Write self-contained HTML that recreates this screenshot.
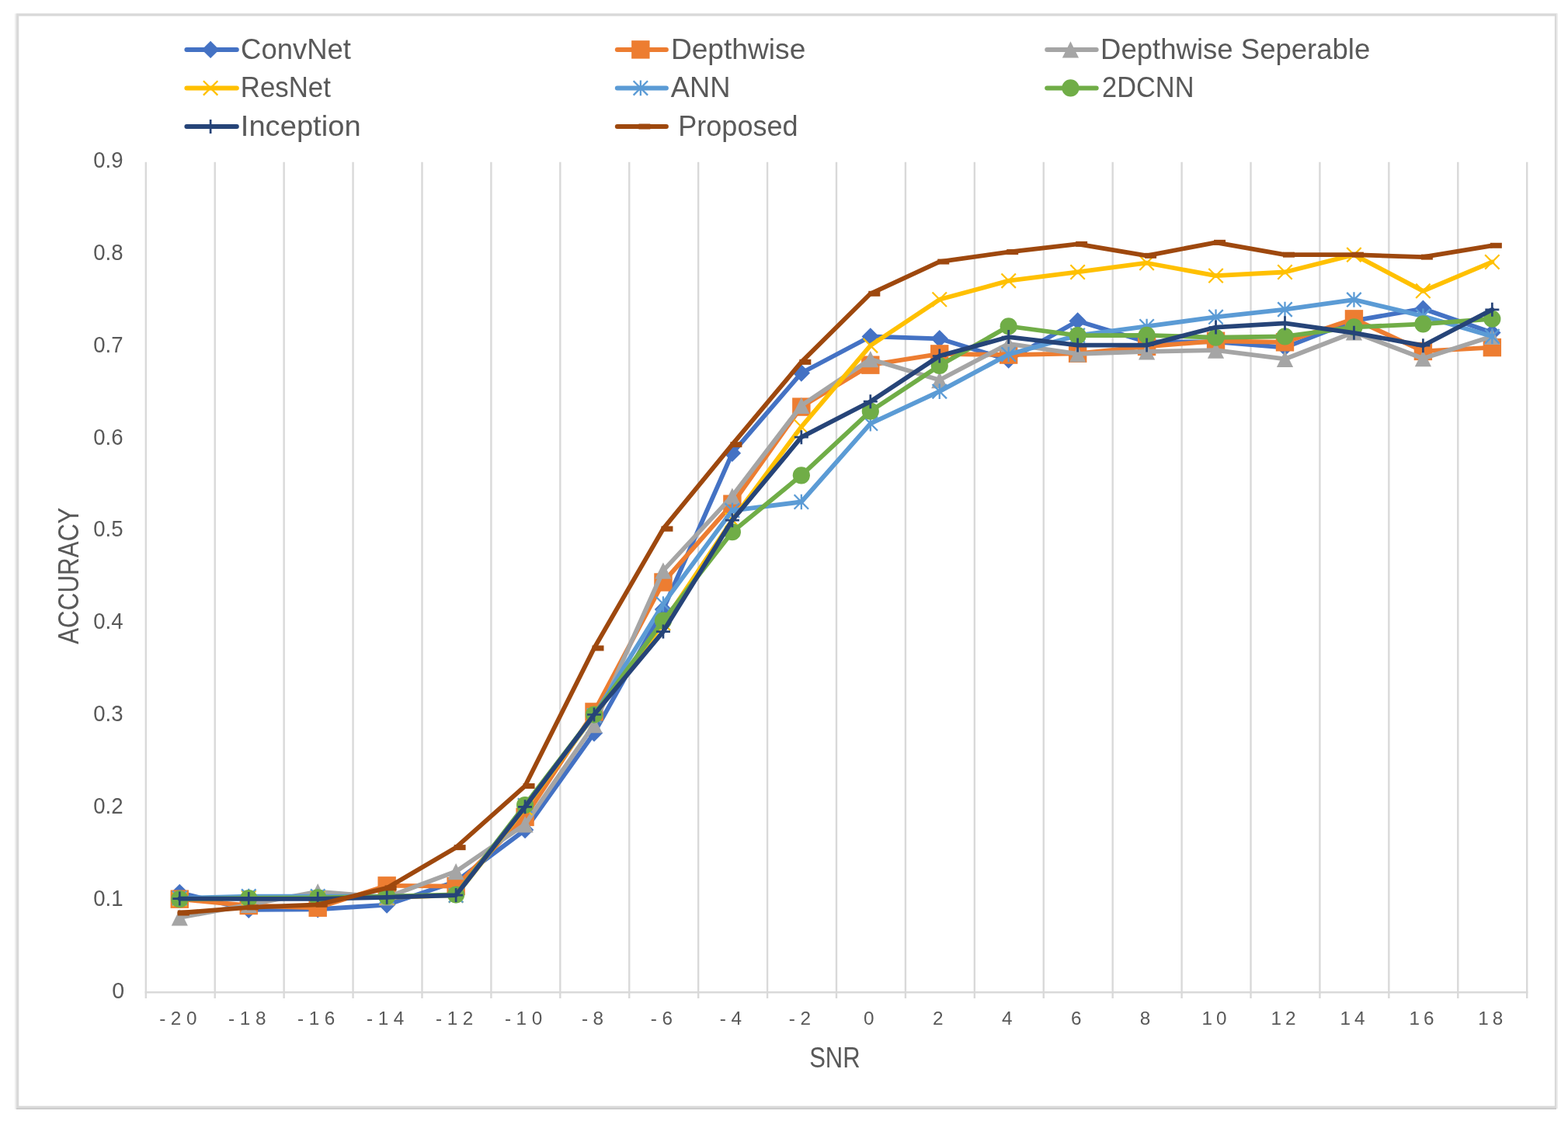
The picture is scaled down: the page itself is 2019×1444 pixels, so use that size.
<!DOCTYPE html><html><head><meta charset="utf-8"><title>Accuracy vs SNR</title>
<style>html,body{margin:0;padding:0;background:#fff;}body{width:2019px;height:1444px;overflow:hidden;}svg{display:block;}</style></head><body>
<svg width="2019" height="1444" viewBox="0 0 2019 1444">
<rect x="0" y="0" width="2019" height="1444" fill="#ffffff"/>
<g fill="none">
<rect x="22.6" y="19.0" width="1980.9" height="1407.3" stroke="#d9d9d9" stroke-width="3.4"/>
<line x1="20" y1="17.5" x2="20" y2="1429" stroke="#ececec" stroke-width="1.8"/>
<line x1="2005" y1="17.5" x2="2005" y2="1428" stroke="#ececec" stroke-width="1.8"/>
<line x1="21" y1="1428.3" x2="2004" y2="1428.3" stroke="#c4c4c4" stroke-width="1.3"/>
</g>
<path d="M187.80 208.70V1286M276.72 208.70V1286M365.64 208.70V1286M454.56 208.70V1286M543.48 208.70V1286M632.40 208.70V1286M721.32 208.70V1286M810.24 208.70V1286M899.16 208.70V1286M988.08 208.70V1286M1077.00 208.70V1286M1165.92 208.70V1286M1254.84 208.70V1286M1343.76 208.70V1286M1432.68 208.70V1286M1521.60 208.70V1286M1610.52 208.70V1286M1699.44 208.70V1286M1788.36 208.70V1286M1877.28 208.70V1286M1966.20 208.70V1286" stroke="#d9d9d9" stroke-width="2.4" fill="none"/>
<path d="M186.60 1278.20H1967.40" stroke="#d9d9d9" stroke-width="2.4" fill="none"/>
<g font-family="'Liberation Sans', Arial, sans-serif" font-size="28.6" fill="#595959" text-anchor="end">
<text x="160.2" y="1285.60">0</text>
<text x="158.6" y="1166.77" textLength="38.3" lengthAdjust="spacingAndGlyphs">0.1</text>
<text x="158.6" y="1047.94" textLength="38.3" lengthAdjust="spacingAndGlyphs">0.2</text>
<text x="158.6" y="929.11" textLength="38.3" lengthAdjust="spacingAndGlyphs">0.3</text>
<text x="158.6" y="810.28" textLength="38.3" lengthAdjust="spacingAndGlyphs">0.4</text>
<text x="158.6" y="691.45" textLength="38.3" lengthAdjust="spacingAndGlyphs">0.5</text>
<text x="158.6" y="572.62" textLength="38.3" lengthAdjust="spacingAndGlyphs">0.6</text>
<text x="158.6" y="453.79" textLength="38.3" lengthAdjust="spacingAndGlyphs">0.7</text>
<text x="158.6" y="334.96" textLength="38.3" lengthAdjust="spacingAndGlyphs">0.8</text>
<text x="158.6" y="216.13" textLength="38.3" lengthAdjust="spacingAndGlyphs">0.9</text>
</g>
<g font-family="'Liberation Sans', Arial, sans-serif" font-size="24.3" fill="#595959" text-anchor="middle">
<text x="232.60" y="1319.6" letter-spacing="6.6">-20</text>
<text x="321.55" y="1319.6" letter-spacing="6.6">-18</text>
<text x="410.50" y="1319.6" letter-spacing="6.6">-16</text>
<text x="499.45" y="1319.6" letter-spacing="6.6">-14</text>
<text x="588.40" y="1319.6" letter-spacing="6.6">-12</text>
<text x="677.35" y="1319.6" letter-spacing="6.6">-10</text>
<text x="766.30" y="1319.6" letter-spacing="6.6">-8</text>
<text x="855.25" y="1319.6" letter-spacing="6.6">-6</text>
<text x="944.20" y="1319.6" letter-spacing="6.6">-4</text>
<text x="1033.15" y="1319.6" letter-spacing="6.6">-2</text>
<text x="1121.30" y="1319.6" letter-spacing="5">0</text>
<text x="1210.25" y="1319.6" letter-spacing="5">2</text>
<text x="1299.20" y="1319.6" letter-spacing="5">4</text>
<text x="1388.15" y="1319.6" letter-spacing="5">6</text>
<text x="1477.10" y="1319.6" letter-spacing="5">8</text>
<text x="1566.05" y="1319.6" letter-spacing="5">10</text>
<text x="1655.00" y="1319.6" letter-spacing="5">12</text>
<text x="1743.95" y="1319.6" letter-spacing="5">14</text>
<text x="1832.90" y="1319.6" letter-spacing="5">16</text>
<text x="1921.85" y="1319.6" letter-spacing="5">18</text>
</g>
<text x="1074.9" y="1375.2" font-family="'Liberation Sans', Arial, sans-serif" font-size="37.5" fill="#595959" text-anchor="middle" textLength="65.5" lengthAdjust="spacingAndGlyphs">SNR</text>
<text transform="translate(101.1 741.8) rotate(-90)" x="0" y="0" font-family="'Liberation Sans', Arial, sans-serif" font-size="37.5" fill="#595959" text-anchor="middle" textLength="176" lengthAdjust="spacingAndGlyphs">ACCURACY</text>
<polyline points="231.30,1149.86 320.25,1171.85 409.20,1171.25 498.15,1165.55 587.10,1135.60 676.05,1069.06 765.00,944.29 853.95,785.06 942.90,583.76 1031.85,480.49 1120.80,433.44 1209.75,436.29 1298.70,463.62 1387.65,413.47 1476.60,440.45 1565.55,440.45 1654.50,447.58 1743.45,413.12 1832.40,397.67 1921.35,428.57" fill="none" stroke="#4472C4" stroke-width="5.8" stroke-linejoin="round" stroke-linecap="round"/>
<g><path d="M231.30 1138.66L242.50 1149.86L231.30 1161.06L220.10 1149.86Z" fill="#4472C4"/><path d="M320.25 1160.65L331.45 1171.85L320.25 1183.05L309.05 1171.85Z" fill="#4472C4"/><path d="M409.20 1160.05L420.40 1171.25L409.20 1182.45L398.00 1171.25Z" fill="#4472C4"/><path d="M498.15 1154.35L509.35 1165.55L498.15 1176.75L486.95 1165.55Z" fill="#4472C4"/><path d="M587.10 1124.40L598.30 1135.60L587.10 1146.80L575.90 1135.60Z" fill="#4472C4"/><path d="M676.05 1057.86L687.25 1069.06L676.05 1080.26L664.85 1069.06Z" fill="#4472C4"/><path d="M765.00 933.09L776.20 944.29L765.00 955.49L753.80 944.29Z" fill="#4472C4"/><path d="M853.95 773.86L865.15 785.06L853.95 796.26L842.75 785.06Z" fill="#4472C4"/><path d="M942.90 572.56L954.10 583.76L942.90 594.96L931.70 583.76Z" fill="#4472C4"/><path d="M1031.85 469.29L1043.05 480.49L1031.85 491.69L1020.65 480.49Z" fill="#4472C4"/><path d="M1120.80 422.24L1132.00 433.44L1120.80 444.64L1109.60 433.44Z" fill="#4472C4"/><path d="M1209.75 425.09L1220.95 436.29L1209.75 447.49L1198.55 436.29Z" fill="#4472C4"/><path d="M1298.70 452.42L1309.90 463.62L1298.70 474.82L1287.50 463.62Z" fill="#4472C4"/><path d="M1387.65 402.27L1398.85 413.47L1387.65 424.67L1376.45 413.47Z" fill="#4472C4"/><path d="M1476.60 429.25L1487.80 440.45L1476.60 451.65L1465.40 440.45Z" fill="#4472C4"/><path d="M1565.55 429.25L1576.75 440.45L1565.55 451.65L1554.35 440.45Z" fill="#4472C4"/><path d="M1654.50 436.38L1665.70 447.58L1654.50 458.78L1643.30 447.58Z" fill="#4472C4"/><path d="M1743.45 401.92L1754.65 413.12L1743.45 424.32L1732.25 413.12Z" fill="#4472C4"/><path d="M1832.40 386.47L1843.60 397.67L1832.40 408.87L1821.20 397.67Z" fill="#4472C4"/><path d="M1921.35 417.37L1932.55 428.57L1921.35 439.77L1910.15 428.57Z" fill="#4472C4"/></g>
<polyline points="231.30,1158.18 320.25,1166.50 409.20,1169.23 498.15,1140.83 587.10,1141.55 676.05,1052.42 765.00,916.96 853.95,750.00 942.90,649.23 1031.85,524.10 1120.80,470.16 1209.75,455.90 1298.70,457.08 1387.65,455.30 1476.60,446.39 1565.55,439.26 1654.50,440.80 1743.45,410.86 1832.40,452.45 1921.35,447.58" fill="none" stroke="#ED7D31" stroke-width="5.8" stroke-linejoin="round" stroke-linecap="round"/>
<g><rect x="219.60" y="1146.48" width="23.40" height="23.40" fill="#ED7D31"/><rect x="308.55" y="1154.80" width="23.40" height="23.40" fill="#ED7D31"/><rect x="397.50" y="1157.53" width="23.40" height="23.40" fill="#ED7D31"/><rect x="486.45" y="1129.13" width="23.40" height="23.40" fill="#ED7D31"/><rect x="575.40" y="1129.85" width="23.40" height="23.40" fill="#ED7D31"/><rect x="664.35" y="1040.72" width="23.40" height="23.40" fill="#ED7D31"/><rect x="753.30" y="905.26" width="23.40" height="23.40" fill="#ED7D31"/><rect x="842.25" y="738.30" width="23.40" height="23.40" fill="#ED7D31"/><rect x="931.20" y="637.53" width="23.40" height="23.40" fill="#ED7D31"/><rect x="1020.15" y="512.40" width="23.40" height="23.40" fill="#ED7D31"/><rect x="1109.10" y="458.46" width="23.40" height="23.40" fill="#ED7D31"/><rect x="1198.05" y="444.20" width="23.40" height="23.40" fill="#ED7D31"/><rect x="1287.00" y="445.38" width="23.40" height="23.40" fill="#ED7D31"/><rect x="1375.95" y="443.60" width="23.40" height="23.40" fill="#ED7D31"/><rect x="1464.90" y="434.69" width="23.40" height="23.40" fill="#ED7D31"/><rect x="1553.85" y="427.56" width="23.40" height="23.40" fill="#ED7D31"/><rect x="1642.80" y="429.10" width="23.40" height="23.40" fill="#ED7D31"/><rect x="1731.75" y="399.16" width="23.40" height="23.40" fill="#ED7D31"/><rect x="1820.70" y="440.75" width="23.40" height="23.40" fill="#ED7D31"/><rect x="1909.65" y="435.88" width="23.40" height="23.40" fill="#ED7D31"/></g>
<polyline points="231.30,1181.95 320.25,1165.31 409.20,1148.68 498.15,1155.81 587.10,1122.53 676.05,1061.93 765.00,933.59 853.95,735.15 942.90,639.13 1031.85,522.44 1120.80,462.67 1209.75,489.53 1298.70,442.83 1387.65,455.90 1476.60,452.81 1565.55,451.14 1654.50,462.43 1743.45,427.97 1832.40,461.72 1921.35,433.32" fill="none" stroke="#A5A5A5" stroke-width="5.8" stroke-linejoin="round" stroke-linecap="round"/>
<g><path d="M231.30 1171.35L241.90 1192.55L220.70 1192.55Z" fill="#A5A5A5"/><path d="M320.25 1154.71L330.85 1175.91L309.65 1175.91Z" fill="#A5A5A5"/><path d="M409.20 1138.08L419.80 1159.28L398.60 1159.28Z" fill="#A5A5A5"/><path d="M498.15 1145.21L508.75 1166.41L487.55 1166.41Z" fill="#A5A5A5"/><path d="M587.10 1111.93L597.70 1133.13L576.50 1133.13Z" fill="#A5A5A5"/><path d="M676.05 1051.33L686.65 1072.53L665.45 1072.53Z" fill="#A5A5A5"/><path d="M765.00 922.99L775.60 944.19L754.40 944.19Z" fill="#A5A5A5"/><path d="M853.95 724.55L864.55 745.75L843.35 745.75Z" fill="#A5A5A5"/><path d="M942.90 628.53L953.50 649.73L932.30 649.73Z" fill="#A5A5A5"/><path d="M1031.85 511.84L1042.45 533.04L1021.25 533.04Z" fill="#A5A5A5"/><path d="M1120.80 452.07L1131.40 473.27L1110.20 473.27Z" fill="#A5A5A5"/><path d="M1209.75 478.93L1220.35 500.13L1199.15 500.13Z" fill="#A5A5A5"/><path d="M1298.70 432.23L1309.30 453.43L1288.10 453.43Z" fill="#A5A5A5"/><path d="M1387.65 445.30L1398.25 466.50L1377.05 466.50Z" fill="#A5A5A5"/><path d="M1476.60 442.21L1487.20 463.41L1466.00 463.41Z" fill="#A5A5A5"/><path d="M1565.55 440.54L1576.15 461.74L1554.95 461.74Z" fill="#A5A5A5"/><path d="M1654.50 451.83L1665.10 473.03L1643.90 473.03Z" fill="#A5A5A5"/><path d="M1743.45 417.37L1754.05 438.57L1732.85 438.57Z" fill="#A5A5A5"/><path d="M1832.40 451.12L1843.00 472.32L1821.80 472.32Z" fill="#A5A5A5"/><path d="M1921.35 422.72L1931.95 443.92L1910.75 443.92Z" fill="#A5A5A5"/></g>
<polyline points="231.30,1158.18 320.25,1156.40 409.20,1156.40 498.15,1155.81 587.10,1153.43 676.05,1040.54 765.00,921.71 853.95,802.88 942.90,669.79 1031.85,549.77 1120.80,445.20 1209.75,385.79 1298.70,361.66 1387.65,350.49 1476.60,338.73 1565.55,355.13 1654.50,350.49 1743.45,328.15 1832.40,374.85 1921.35,337.42" fill="none" stroke="#FFC000" stroke-width="5.8" stroke-linejoin="round" stroke-linecap="round"/>
<g><path d="M222.10 1148.98L240.50 1167.38M240.50 1148.98L222.10 1167.38" stroke="#FFC000" stroke-width="2.2" fill="none"/><path d="M311.05 1147.20L329.45 1165.60M329.45 1147.20L311.05 1165.60" stroke="#FFC000" stroke-width="2.2" fill="none"/><path d="M400.00 1147.20L418.40 1165.60M418.40 1147.20L400.00 1165.60" stroke="#FFC000" stroke-width="2.2" fill="none"/><path d="M488.95 1146.61L507.35 1165.01M507.35 1146.61L488.95 1165.01" stroke="#FFC000" stroke-width="2.2" fill="none"/><path d="M577.90 1144.23L596.30 1162.63M596.30 1144.23L577.90 1162.63" stroke="#FFC000" stroke-width="2.2" fill="none"/><path d="M666.85 1031.34L685.25 1049.74M685.25 1031.34L666.85 1049.74" stroke="#FFC000" stroke-width="2.2" fill="none"/><path d="M755.80 912.51L774.20 930.91M774.20 912.51L755.80 930.91" stroke="#FFC000" stroke-width="2.2" fill="none"/><path d="M844.75 793.68L863.15 812.08M863.15 793.68L844.75 812.08" stroke="#FFC000" stroke-width="2.2" fill="none"/><path d="M933.70 660.59L952.10 678.99M952.10 660.59L933.70 678.99" stroke="#FFC000" stroke-width="2.2" fill="none"/><path d="M1022.65 540.57L1041.05 558.97M1041.05 540.57L1022.65 558.97" stroke="#FFC000" stroke-width="2.2" fill="none"/><path d="M1111.60 436.00L1130.00 454.40M1130.00 436.00L1111.60 454.40" stroke="#FFC000" stroke-width="2.2" fill="none"/><path d="M1200.55 376.59L1218.95 394.99M1218.95 376.59L1200.55 394.99" stroke="#FFC000" stroke-width="2.2" fill="none"/><path d="M1289.50 352.46L1307.90 370.86M1307.90 352.46L1289.50 370.86" stroke="#FFC000" stroke-width="2.2" fill="none"/><path d="M1378.45 341.29L1396.85 359.69M1396.85 341.29L1378.45 359.69" stroke="#FFC000" stroke-width="2.2" fill="none"/><path d="M1467.40 329.53L1485.80 347.93M1485.80 329.53L1467.40 347.93" stroke="#FFC000" stroke-width="2.2" fill="none"/><path d="M1556.35 345.93L1574.75 364.33M1574.75 345.93L1556.35 364.33" stroke="#FFC000" stroke-width="2.2" fill="none"/><path d="M1645.30 341.29L1663.70 359.69M1663.70 341.29L1645.30 359.69" stroke="#FFC000" stroke-width="2.2" fill="none"/><path d="M1734.25 318.95L1752.65 337.35M1752.65 318.95L1734.25 337.35" stroke="#FFC000" stroke-width="2.2" fill="none"/><path d="M1823.20 365.65L1841.60 384.05M1841.60 365.65L1823.20 384.05" stroke="#FFC000" stroke-width="2.2" fill="none"/><path d="M1912.15 328.22L1930.55 346.62M1930.55 328.22L1912.15 346.62" stroke="#FFC000" stroke-width="2.2" fill="none"/></g>
<polyline points="231.30,1156.99 320.25,1154.62 409.20,1154.62 498.15,1154.62 587.10,1153.43 676.05,1037.57 765.00,921.71 853.95,777.93 942.90,657.55 1031.85,646.50 1120.80,545.61 1209.75,504.14 1298.70,456.49 1387.65,432.13 1476.60,420.49 1565.55,408.36 1654.50,398.62 1743.45,386.02 1832.40,407.18 1921.35,433.32" fill="none" stroke="#5B9BD5" stroke-width="5.8" stroke-linejoin="round" stroke-linecap="round"/>
<g><path d="M222.10 1147.79L240.50 1166.19M240.50 1147.79L222.10 1166.19M231.30 1147.19L231.30 1166.79" stroke="#5B9BD5" stroke-width="2.3" fill="none"/><path d="M311.05 1145.42L329.45 1163.82M329.45 1145.42L311.05 1163.82M320.25 1144.82L320.25 1164.42" stroke="#5B9BD5" stroke-width="2.3" fill="none"/><path d="M400.00 1145.42L418.40 1163.82M418.40 1145.42L400.00 1163.82M409.20 1144.82L409.20 1164.42" stroke="#5B9BD5" stroke-width="2.3" fill="none"/><path d="M488.95 1145.42L507.35 1163.82M507.35 1145.42L488.95 1163.82M498.15 1144.82L498.15 1164.42" stroke="#5B9BD5" stroke-width="2.3" fill="none"/><path d="M577.90 1144.23L596.30 1162.63M596.30 1144.23L577.90 1162.63M587.10 1143.63L587.10 1163.23" stroke="#5B9BD5" stroke-width="2.3" fill="none"/><path d="M666.85 1028.37L685.25 1046.77M685.25 1028.37L666.85 1046.77M676.05 1027.77L676.05 1047.37" stroke="#5B9BD5" stroke-width="2.3" fill="none"/><path d="M755.80 912.51L774.20 930.91M774.20 912.51L755.80 930.91M765.00 911.91L765.00 931.51" stroke="#5B9BD5" stroke-width="2.3" fill="none"/><path d="M844.75 768.73L863.15 787.13M863.15 768.73L844.75 787.13M853.95 768.13L853.95 787.73" stroke="#5B9BD5" stroke-width="2.3" fill="none"/><path d="M933.70 648.35L952.10 666.75M952.10 648.35L933.70 666.75M942.90 647.75L942.90 667.35" stroke="#5B9BD5" stroke-width="2.3" fill="none"/><path d="M1022.65 637.30L1041.05 655.70M1041.05 637.30L1022.65 655.70M1031.85 636.70L1031.85 656.30" stroke="#5B9BD5" stroke-width="2.3" fill="none"/><path d="M1111.60 536.41L1130.00 554.81M1130.00 536.41L1111.60 554.81M1120.80 535.81L1120.80 555.41" stroke="#5B9BD5" stroke-width="2.3" fill="none"/><path d="M1200.55 494.94L1218.95 513.34M1218.95 494.94L1200.55 513.34M1209.75 494.34L1209.75 513.94" stroke="#5B9BD5" stroke-width="2.3" fill="none"/><path d="M1289.50 447.29L1307.90 465.69M1307.90 447.29L1289.50 465.69M1298.70 446.69L1298.70 466.29" stroke="#5B9BD5" stroke-width="2.3" fill="none"/><path d="M1378.45 422.93L1396.85 441.33M1396.85 422.93L1378.45 441.33M1387.65 422.33L1387.65 441.93" stroke="#5B9BD5" stroke-width="2.3" fill="none"/><path d="M1467.40 411.29L1485.80 429.69M1485.80 411.29L1467.40 429.69M1476.60 410.69L1476.60 430.29" stroke="#5B9BD5" stroke-width="2.3" fill="none"/><path d="M1556.35 399.16L1574.75 417.56M1574.75 399.16L1556.35 417.56M1565.55 398.56L1565.55 418.16" stroke="#5B9BD5" stroke-width="2.3" fill="none"/><path d="M1645.30 389.42L1663.70 407.82M1663.70 389.42L1645.30 407.82M1654.50 388.82L1654.50 408.42" stroke="#5B9BD5" stroke-width="2.3" fill="none"/><path d="M1734.25 376.82L1752.65 395.22M1752.65 376.82L1734.25 395.22M1743.45 376.22L1743.45 395.82" stroke="#5B9BD5" stroke-width="2.3" fill="none"/><path d="M1823.20 397.98L1841.60 416.38M1841.60 397.98L1823.20 416.38M1832.40 397.38L1832.40 416.98" stroke="#5B9BD5" stroke-width="2.3" fill="none"/><path d="M1912.15 424.12L1930.55 442.52M1930.55 424.12L1912.15 442.52M1921.35 423.52L1921.35 443.12" stroke="#5B9BD5" stroke-width="2.3" fill="none"/></g>
<polyline points="231.30,1158.18 320.25,1156.99 409.20,1156.40 498.15,1154.62 587.10,1152.48 676.05,1036.98 765.00,920.52 853.95,799.55 942.90,685.24 1031.85,612.28 1120.80,529.69 1209.75,470.99 1298.70,420.25 1387.65,432.13 1476.60,431.89 1565.55,434.74 1654.50,433.44 1743.45,421.44 1832.40,417.28 1921.35,410.74" fill="none" stroke="#70AD47" stroke-width="5.8" stroke-linejoin="round" stroke-linecap="round"/>
<g><circle cx="231.30" cy="1158.18" r="11.1" fill="#70AD47"/><circle cx="320.25" cy="1156.99" r="11.1" fill="#70AD47"/><circle cx="409.20" cy="1156.40" r="11.1" fill="#70AD47"/><circle cx="498.15" cy="1154.62" r="11.1" fill="#70AD47"/><circle cx="587.10" cy="1152.48" r="11.1" fill="#70AD47"/><circle cx="676.05" cy="1036.98" r="11.1" fill="#70AD47"/><circle cx="765.00" cy="920.52" r="11.1" fill="#70AD47"/><circle cx="853.95" cy="799.55" r="11.1" fill="#70AD47"/><circle cx="942.90" cy="685.24" r="11.1" fill="#70AD47"/><circle cx="1031.85" cy="612.28" r="11.1" fill="#70AD47"/><circle cx="1120.80" cy="529.69" r="11.1" fill="#70AD47"/><circle cx="1209.75" cy="470.99" r="11.1" fill="#70AD47"/><circle cx="1298.70" cy="420.25" r="11.1" fill="#70AD47"/><circle cx="1387.65" cy="432.13" r="11.1" fill="#70AD47"/><circle cx="1476.60" cy="431.89" r="11.1" fill="#70AD47"/><circle cx="1565.55" cy="434.74" r="11.1" fill="#70AD47"/><circle cx="1654.50" cy="433.44" r="11.1" fill="#70AD47"/><circle cx="1743.45" cy="421.44" r="11.1" fill="#70AD47"/><circle cx="1832.40" cy="417.28" r="11.1" fill="#70AD47"/><circle cx="1921.35" cy="410.74" r="11.1" fill="#70AD47"/></g>
<polyline points="231.30,1157.59 320.25,1157.94 409.20,1157.83 498.15,1155.81 587.10,1153.07 676.05,1039.35 765.00,920.52 853.95,813.57 942.90,670.15 1031.85,563.20 1120.80,517.21 1209.75,458.51 1298.70,434.03 1387.65,444.61 1476.60,444.61 1565.55,421.55 1654.50,416.33 1743.45,428.80 1832.40,445.20 1921.35,398.86" fill="none" stroke="#264478" stroke-width="5.8" stroke-linejoin="round" stroke-linecap="round"/>
<g><path d="M222.30 1157.59L240.30 1157.59M231.30 1148.59L231.30 1166.59" stroke="#264478" stroke-width="2.7" fill="none"/><path d="M311.25 1157.94L329.25 1157.94M320.25 1148.94L320.25 1166.94" stroke="#264478" stroke-width="2.7" fill="none"/><path d="M400.20 1157.83L418.20 1157.83M409.20 1148.83L409.20 1166.83" stroke="#264478" stroke-width="2.7" fill="none"/><path d="M489.15 1155.81L507.15 1155.81M498.15 1146.81L498.15 1164.81" stroke="#264478" stroke-width="2.7" fill="none"/><path d="M578.10 1153.07L596.10 1153.07M587.10 1144.07L587.10 1162.07" stroke="#264478" stroke-width="2.7" fill="none"/><path d="M667.05 1039.35L685.05 1039.35M676.05 1030.35L676.05 1048.35" stroke="#264478" stroke-width="2.7" fill="none"/><path d="M756.00 920.52L774.00 920.52M765.00 911.52L765.00 929.52" stroke="#264478" stroke-width="2.7" fill="none"/><path d="M844.95 813.57L862.95 813.57M853.95 804.57L853.95 822.57" stroke="#264478" stroke-width="2.7" fill="none"/><path d="M933.90 670.15L951.90 670.15M942.90 661.15L942.90 679.15" stroke="#264478" stroke-width="2.7" fill="none"/><path d="M1022.85 563.20L1040.85 563.20M1031.85 554.20L1031.85 572.20" stroke="#264478" stroke-width="2.7" fill="none"/><path d="M1111.80 517.21L1129.80 517.21M1120.80 508.21L1120.80 526.21" stroke="#264478" stroke-width="2.7" fill="none"/><path d="M1200.75 458.51L1218.75 458.51M1209.75 449.51L1209.75 467.51" stroke="#264478" stroke-width="2.7" fill="none"/><path d="M1289.70 434.03L1307.70 434.03M1298.70 425.03L1298.70 443.03" stroke="#264478" stroke-width="2.7" fill="none"/><path d="M1378.65 444.61L1396.65 444.61M1387.65 435.61L1387.65 453.61" stroke="#264478" stroke-width="2.7" fill="none"/><path d="M1467.60 444.61L1485.60 444.61M1476.60 435.61L1476.60 453.61" stroke="#264478" stroke-width="2.7" fill="none"/><path d="M1556.55 421.55L1574.55 421.55M1565.55 412.55L1565.55 430.55" stroke="#264478" stroke-width="2.7" fill="none"/><path d="M1645.50 416.33L1663.50 416.33M1654.50 407.33L1654.50 425.33" stroke="#264478" stroke-width="2.7" fill="none"/><path d="M1734.45 428.80L1752.45 428.80M1743.45 419.80L1743.45 437.80" stroke="#264478" stroke-width="2.7" fill="none"/><path d="M1823.40 445.20L1841.40 445.20M1832.40 436.20L1832.40 454.20" stroke="#264478" stroke-width="2.7" fill="none"/><path d="M1912.35 398.86L1930.35 398.86M1921.35 389.86L1921.35 407.86" stroke="#264478" stroke-width="2.7" fill="none"/></g>
<polyline points="231.30,1176.01 320.25,1168.88 409.20,1165.31 498.15,1143.92 587.10,1091.64 676.05,1012.50 765.00,834.96 853.95,681.20 942.90,572.71 1031.85,466.35 1120.80,378.30 1209.75,337.07 1298.70,324.59 1387.65,314.37 1476.60,329.34 1565.55,312.35 1654.50,328.15 1743.45,328.15 1832.40,331.12 1921.35,316.27" fill="none" stroke="#9E480E" stroke-width="5.8" stroke-linejoin="round" stroke-linecap="round"/>
<g><rect x="228.80" y="1172.51" width="15" height="7" fill="#9E480E"/><rect x="317.75" y="1165.38" width="15" height="7" fill="#9E480E"/><rect x="406.70" y="1161.81" width="15" height="7" fill="#9E480E"/><rect x="495.65" y="1140.42" width="15" height="7" fill="#9E480E"/><rect x="584.60" y="1088.14" width="15" height="7" fill="#9E480E"/><rect x="673.55" y="1009.00" width="15" height="7" fill="#9E480E"/><rect x="762.50" y="831.46" width="15" height="7" fill="#9E480E"/><rect x="851.45" y="677.70" width="15" height="7" fill="#9E480E"/><rect x="940.40" y="569.21" width="15" height="7" fill="#9E480E"/><rect x="1029.35" y="462.85" width="15" height="7" fill="#9E480E"/><rect x="1118.30" y="374.80" width="15" height="7" fill="#9E480E"/><rect x="1207.25" y="333.57" width="15" height="7" fill="#9E480E"/><rect x="1296.20" y="321.09" width="15" height="7" fill="#9E480E"/><rect x="1385.15" y="310.87" width="15" height="7" fill="#9E480E"/><rect x="1474.10" y="325.84" width="15" height="7" fill="#9E480E"/><rect x="1563.05" y="308.85" width="15" height="7" fill="#9E480E"/><rect x="1652.00" y="324.65" width="15" height="7" fill="#9E480E"/><rect x="1740.95" y="324.65" width="15" height="7" fill="#9E480E"/><rect x="1829.90" y="327.62" width="15" height="7" fill="#9E480E"/><rect x="1918.85" y="312.77" width="15" height="7" fill="#9E480E"/></g>
<line x1="240.40" y1="63.90" x2="304.80" y2="63.90" stroke="#4472C4" stroke-width="6" stroke-linecap="round"/>
<path d="M271.10 52.70L282.30 63.90L271.10 75.10L259.90 63.90Z" fill="#4472C4"/>
<text x="310.10" y="75.70" font-family="'Liberation Sans', Arial, sans-serif" font-size="37.5" fill="#595959" textLength="141.8" lengthAdjust="spacingAndGlyphs">ConvNet</text>
<line x1="794.80" y1="63.90" x2="857.90" y2="63.90" stroke="#ED7D31" stroke-width="6" stroke-linecap="round"/>
<rect x="813.15" y="52.20" width="23.40" height="23.40" fill="#ED7D31"/>
<text x="863.90" y="75.70" font-family="'Liberation Sans', Arial, sans-serif" font-size="37.5" fill="#595959" textLength="173.4" lengthAdjust="spacingAndGlyphs">Depthwise</text>
<line x1="1348.20" y1="63.90" x2="1411.70" y2="63.90" stroke="#A5A5A5" stroke-width="6" stroke-linecap="round"/>
<path d="M1378.45 53.30L1389.05 74.50L1367.85 74.50Z" fill="#A5A5A5"/>
<text x="1417.10" y="75.70" font-family="'Liberation Sans', Arial, sans-serif" font-size="37.5" fill="#595959" textLength="347.2" lengthAdjust="spacingAndGlyphs">Depthwise Seperable</text>
<line x1="240.40" y1="113.40" x2="304.80" y2="113.40" stroke="#FFC000" stroke-width="6" stroke-linecap="round"/>
<path d="M261.90 104.20L280.30 122.60M280.30 104.20L261.90 122.60" stroke="#FFC000" stroke-width="2.2" fill="none"/>
<text x="309.80" y="125.20" font-family="'Liberation Sans', Arial, sans-serif" font-size="37.5" fill="#595959" textLength="116.0" lengthAdjust="spacingAndGlyphs">ResNet</text>
<line x1="794.80" y1="113.40" x2="857.90" y2="113.40" stroke="#5B9BD5" stroke-width="6" stroke-linecap="round"/>
<path d="M815.65 104.20L834.05 122.60M834.05 104.20L815.65 122.60M824.85 103.60L824.85 123.20" stroke="#5B9BD5" stroke-width="2.3" fill="none"/>
<text x="863.80" y="125.20" font-family="'Liberation Sans', Arial, sans-serif" font-size="37.5" fill="#595959" textLength="76.6" lengthAdjust="spacingAndGlyphs">ANN</text>
<line x1="1348.20" y1="113.40" x2="1411.70" y2="113.40" stroke="#70AD47" stroke-width="6" stroke-linecap="round"/>
<circle cx="1378.45" cy="113.40" r="11.1" fill="#70AD47"/>
<text x="1419.10" y="125.20" font-family="'Liberation Sans', Arial, sans-serif" font-size="37.5" fill="#595959" textLength="118.4" lengthAdjust="spacingAndGlyphs">2DCNN</text>
<line x1="240.40" y1="163.00" x2="304.80" y2="163.00" stroke="#264478" stroke-width="6" stroke-linecap="round"/>
<path d="M262.10 163.00L280.10 163.00M271.10 154.00L271.10 172.00" stroke="#264478" stroke-width="2.7" fill="none"/>
<text x="309.80" y="174.80" font-family="'Liberation Sans', Arial, sans-serif" font-size="37.5" fill="#595959" textLength="154.8" lengthAdjust="spacingAndGlyphs">Inception</text>
<line x1="794.80" y1="163.00" x2="857.90" y2="163.00" stroke="#9E480E" stroke-width="6" stroke-linecap="round"/>
<rect x="822.35" y="159.50" width="15" height="7" fill="#9E480E"/>
<text x="873.30" y="174.80" font-family="'Liberation Sans', Arial, sans-serif" font-size="37.5" fill="#595959" textLength="154.2" lengthAdjust="spacingAndGlyphs">Proposed</text>
</svg></body></html>
